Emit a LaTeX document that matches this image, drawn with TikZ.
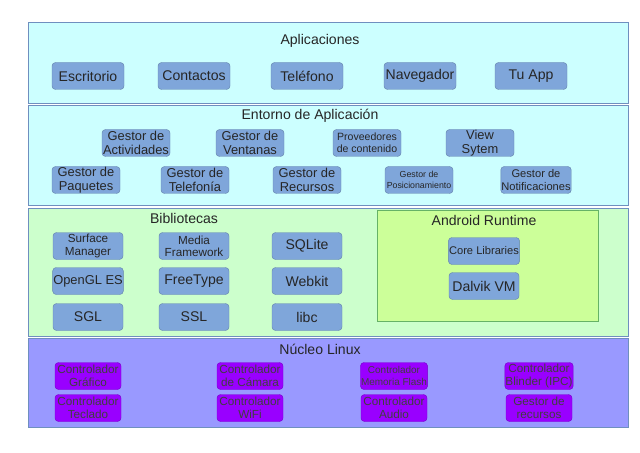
\documentclass[tikz,border=0pt]{standalone}
\usepackage{fontspec}
\setmainfont{Liberation Sans}
\usepackage{tikz}
\usetikzlibrary{positioning}
\definecolor{layercyan}{HTML}{CCFFFF}
\definecolor{layergreen}{HTML}{CCFFCC}
\definecolor{runtimegreen}{HTML}{CCFF99}
\definecolor{kernelblue}{HTML}{9999FF}
\definecolor{boxblue}{HTML}{7FA6DA}
\definecolor{boxpurple}{HTML}{9900FF}
\definecolor{edgeblue}{HTML}{6F8FBF}

\tikzset{
  layer/.style={draw=edgeblue, line width=0.8pt},
  title/.style={font=\fontsize{12}{13}\selectfont, text=black!85},
  comp/.style={draw=boxblue!80!black, fill=boxblue, rounded corners=3pt, align=center,
    minimum width=70*0.03cm, minimum height=27*0.03cm, inner sep=0.5pt,
    font=\fontsize{11}{11.5}\selectfont, text=black!85},
  drv/.style={comp, draw=boxpurple!80!black, fill=boxpurple, minimum width=66*0.03cm,
    text=black!75, font=\fontsize{10}{11}\selectfont},
}

\begin{document}
\begin{tikzpicture}[x=0.03cm, y=-0.03cm]
    \useasboundingbox (0,0) rectangle (640,453);

    % Layers
    \draw[layer, fill=layercyan] (28,22) rectangle (628,103);
    \draw[layer, fill=layercyan] (28,105) rectangle (628,205);
    \draw[layer, fill=layergreen] (28,208) rectangle (628,336);
    \draw[layer, fill=kernelblue] (28,338) rectangle (628,427);
    \draw[draw=green!50!black!60, fill=runtimegreen] (377,210) rectangle (598,321);

    % Aplicaciones
    \node[title] (apps) at (320,41) {Aplicaciones};
    \foreach \x/\name/\txt in {88/esc/Escritorio, 194/con/Contactos, 307/tel/Teléfono,
        420/nav/Navegador, 531/app/Tu App}
        \node[comp, minimum width=72*0.03cm, font=\fontsize{12}{13}\selectfont] (\name) at (\x,76) {\txt};

    % Entorno de Aplicacion
    \node[title] (fw) at (310,116) {Entorno de Aplicación};
    \node[comp, minimum width=68*0.03cm] (act) at (136,143) {Gestor de\\Actividades};
    \node[comp, minimum width=68*0.03cm] (ven) at (250,143) {Gestor de\\Ventanas};
    \node[comp, minimum width=68*0.03cm, font=\fontsize{9}{10}\selectfont] (prov) at (367,143) {Proveedores\\de contenido};
    \node[comp, minimum width=68*0.03cm] (view) at (480,143) {View\\Sytem};
    \node[comp, minimum width=68*0.03cm] (paq) at (86,180) {Gestor de\\Paquetes};
    \node[comp, minimum width=68*0.03cm] (tlf) at (195,180) {Gestor de\\Telefonía};
    \node[comp, minimum width=68*0.03cm] (rec) at (307,180) {Gestor de\\Recursos};
    \node[comp, minimum width=68*0.03cm, font=\fontsize{7.5}{9.5}\selectfont] (pos) at (419,180) {Gestor de\\Posicionamiento};
    \node[comp, minimum width=68*0.03cm, font=\fontsize{9.5}{11}\selectfont] (not) at (536,180) {Gestor de\\Notificaciones};

    % Bibliotecas
    \node[title] (libs) at (184,218) {Bibliotecas};
    \node[comp, font=\fontsize{10}{10.5}\selectfont] (surf) at (88,246) {Surface\\Manager};
    \node[comp, font=\fontsize{10}{10.5}\selectfont] (media) at (194,246) {Media\\Framework};
    \node[comp, font=\fontsize{12}{13}\selectfont] (sql) at (307,246) {SQLite};
    \node[comp] (gl) at (88,281) {OpenGL ES};
    \node[comp, font=\fontsize{12}{13}\selectfont] (ft) at (194,281) {FreeType};
    \node[comp, font=\fontsize{12}{13}\selectfont] (web) at (307,281) {Webkit};
    \node[comp, font=\fontsize{12}{13}\selectfont] (sgl) at (88,317) {SGL};
    \node[comp, font=\fontsize{12}{13}\selectfont] (ssl) at (194,317) {SSL};
    \node[comp, font=\fontsize{12}{13}\selectfont] (libc) at (307,317) {libc};

    % Android Runtime
    \node[title] (rt) at (484,220) {Android Runtime};
    \node[comp, font=\fontsize{9.5}{10}\selectfont] (core) at (484,251) {Core Libraries};
    \node[comp, font=\fontsize{12}{13}\selectfont] (dvm) at (484,286) {Dalvik VM};

    % Nucleo Linux
    \node[title] (kern) at (320,349) {Núcleo Linux};
    \node[drv] (gra) at (88,376) {Controlador\\Gráfico};
    \node[drv] (cam) at (250,376) {Controlador\\de Cámara};
    \node[drv, font=\fontsize{8.5}{10}\selectfont] (flash) at (394,376) {Controlador\\Memoria Flash};
    \node[drv] (ipc) at (539,376) {Controlador\\Blinder (IPC)};
    \node[drv] (tec) at (88,408) {Controlador\\Teclado};
    \node[drv] (wifi) at (250,408) {Controlador\\WiFi};
    \node[drv] (aud) at (394,408) {Controlador\\Audio};
    \node[drv] (grec) at (539,408) {Gestor de\\recursos};
\end{tikzpicture}
\end{document}
